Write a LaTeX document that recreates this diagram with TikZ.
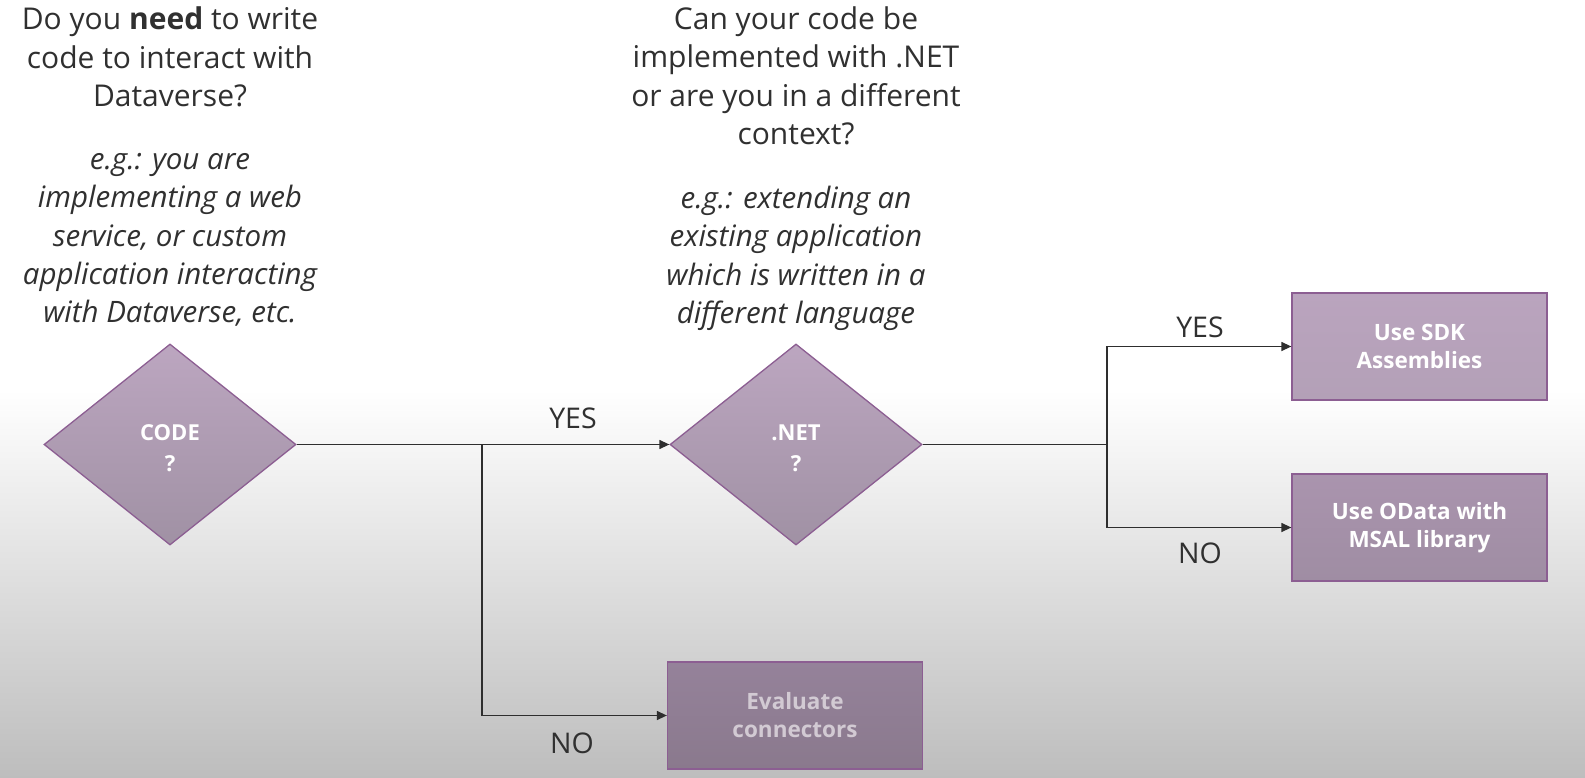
\documentclass[tikz,border=0pt]{standalone}
\usepackage{fontspec}
\setmainfont{Open Sans}
\usetikzlibrary{shapes.geometric,arrows.meta}
\definecolor{bgbot}{HTML}{BDBDBD}
\definecolor{txt}{HTML}{303030}
\definecolor{edge}{HTML}{8C5E92}
\definecolor{dtop}{HTML}{BCA6C0}
\definecolor{dbot}{HTML}{A091A4}
\definecolor{atop}{HTML}{BAA4BE}
\definecolor{abot}{HTML}{B3A0B7}
\definecolor{btop}{HTML}{AA94AE}
\definecolor{bbot}{HTML}{9F8DA3}
\definecolor{ctop}{HTML}{95829A}
\definecolor{cbot}{HTML}{8A798D}
\definecolor{ctxt}{HTML}{D2CAD3}
\definecolor{wire}{HTML}{2E2E2E}
\tikzset{
  question/.style={text=txt, align=center, font=\fontsize{30}{38.4}\selectfont},
  example/.style={text=txt, align=center, font=\fontsize{29.5}{38.4}\selectfont\itshape},
  decision/.style={diamond, draw=edge, line width=1.3pt, minimum width=252pt, minimum height=201pt,
     inner sep=0pt, top color=dtop, bottom color=dbot},
  dtext/.style={text=white, align=center, font=\fontsize{22}{31}\selectfont\bfseries, yshift=-4pt},
  action/.style={rectangle, draw=edge, line width=1.3pt, minimum width=255pt, minimum height=107pt,
     inner sep=0pt, text=white, align=center, font=\fontsize{22.5}{28}\selectfont\bfseries},
  label/.style={text=txt, font=\fontsize{28.5}{30}\selectfont},
  wireline/.style={draw=wire, line width=1.3pt},
  arrowline/.style={wireline, -{Triangle[length=10pt,width=9pt]}}
}
\begin{document}
\begin{tikzpicture}[x=1pt,y=-1pt]
\useasboundingbox (0,0) rectangle (1585,778);
\fill[white] (0,0) rectangle (1585,391);
\shade[top color=white, bottom color=bgbot] (0,390) rectangle (1585,778);

% question texts
\node[question] (q1) at (170,57) {Do you \textbf{need} to write\\code to interact with\\Dataverse?};
\node[example] (e1) at (170,240) {e.g.: you are\\implementing a web\\service, or custom\\application interacting\\with Dataverse, etc.};
\node[question] (q2) at (796,76) {Can your code be\\implemented with .NET\\or are you in a different\\context?};
\node[example] (e2) at (796,258.5) {e.g.: extending an\\existing application\\which is written in a\\different language};

% shapes
\node[decision] (code) at (170,444.5) {};
\node[dtext] (codetext) at (code.center) {CODE\\?};
\node[decision] (net) at (796,444.5) {};
\node[dtext] (nettext) at (net.center) {.NET\\?};
\node[action, top color=atop, bottom color=abot] (sdk) at (1419.5,346.5) {Use SDK\\Assemblies};
\node[action, top color=btop, bottom color=bbot] (odata) at (1419.5,527.5) {Use OData with\\MSAL library};
\node[action, top color=ctop, bottom color=cbot, text=ctxt] (eval) at (795,715.5) {Evaluate\\connectors};

% junctions
\coordinate (j1) at (482,444.5);
\coordinate (j2) at (1107,444.5);

% connectors
\draw[arrowline] (code.east) -- (net.west);
\draw[arrowline] (j1) |- (eval.west);
\draw[wireline] (net.east) -- (j2);
\draw[arrowline] (j2) |- (sdk.west);
\draw[arrowline] (j2) |- (odata.west);

% labels
\node[label] (yes1) at (573,418) {YES};
\node[label] (no1) at (572,743) {NO};
\node[label] (yes2) at (1200,327) {YES};
\node[label] (no2) at (1200,553) {NO};
\end{tikzpicture}
\end{document}
